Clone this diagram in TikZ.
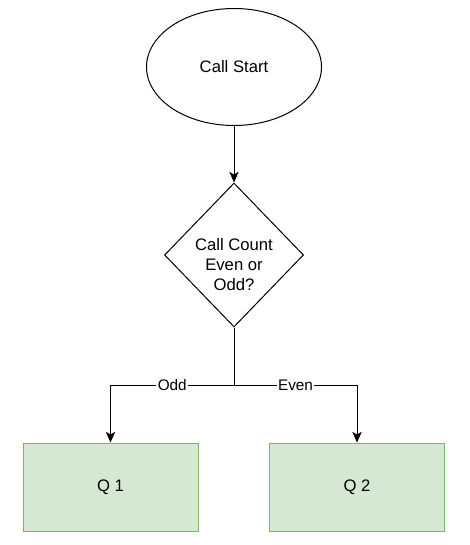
\documentclass[tikz,border=0pt]{standalone}
\usepackage{fontspec}
\setmainfont{Liberation Sans}
\usetikzlibrary{shapes.geometric,arrows.meta}
\definecolor{queuefill}{HTML}{D5E8D4}
\definecolor{queuedraw}{HTML}{82B366}

\begin{document}
\begin{tikzpicture}[x=0.75pt,y=-0.75pt,line width=0.75pt,
  >={Stealth[length=8pt,width=7pt,inset=2pt]},
  every node/.style={font=\fontsize{12.5}{15}\selectfont},
  startnode/.style={draw,ellipse,inner sep=0pt,minimum width=131.25pt,minimum height=87.75pt},
  decision/.style={draw,diamond,inner sep=0pt,minimum width=104.25pt,minimum height=108pt},
  queue/.style={draw=queuedraw,fill=queuefill,inner sep=0pt,minimum width=131.25pt,minimum height=66pt},
  branchlabel/.style={fill=white,inner sep=1pt,font=\fontsize{11.5}{13}\selectfont}]
  \useasboundingbox (0,0) rectangle (469,545);
  \node[startnode] (start) at (234,67) {Call Start};
  \node[decision] (dec) at (234,255) {};
  \node[align=center] (decText) at ([yshift=-7.5pt]dec.center) {Call Count\\Even or\\Odd?};
  \node[queue] (q1) at (110.5,487) {Q 1};
  \node[queue] (q2) at (357,487) {Q 2};
  \coordinate (split) at (234,385);
  \draw[->] (start) -- (dec);
  \draw (dec) -- (split);
  \draw[->] (split) -| node[branchlabel,pos=0.25] {Odd} (q1.north);
  \draw[->] (split) -| node[branchlabel,pos=0.25] {Even} (q2.north);
\end{tikzpicture}
\end{document}
